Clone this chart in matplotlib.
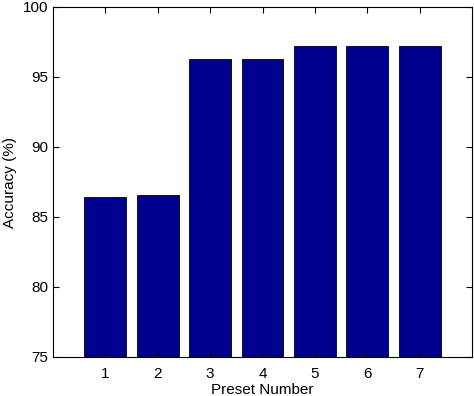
import matplotlib
matplotlib.use("Agg")
import matplotlib.pyplot as plt

presets = [1, 2, 3, 4, 5, 6, 7]
accuracy = [86.4, 86.6, 96.3, 96.3, 97.2, 97.2, 97.2]
yticks = [75, 80, 85, 90, 95, 100]

plt.rcParams['font.family'] = ['Liberation Sans', 'DejaVu Sans']
fig = plt.figure(figsize=(4.74, 3.96), dpi=100)
ax = fig.add_axes([53/474, 1 - 357/396, (472-53)/474, (357-7)/396])
ax.bar(presets, accuracy, width=0.8, color=(0, 0, 0.5625), edgecolor='black', linewidth=0.6)
ax.set_xlim(0, 8)
ax.set_ylim(75, 100)
ax.set_xticks(presets)
ax.set_yticks(yticks)
ax.tick_params(direction='in', top=True, right=True, labelsize=11, length=4, width=0.8)
ax.tick_params(axis='x', pad=7)
for s in ax.spines.values():
    s.set_linewidth(0.8)
ax.set_xlabel('Preset Number', fontsize=11, labelpad=2)
ax.set_ylabel('Accuracy (%)', fontsize=11, labelpad=4)
fig.savefig('out.png', dpi=100)
